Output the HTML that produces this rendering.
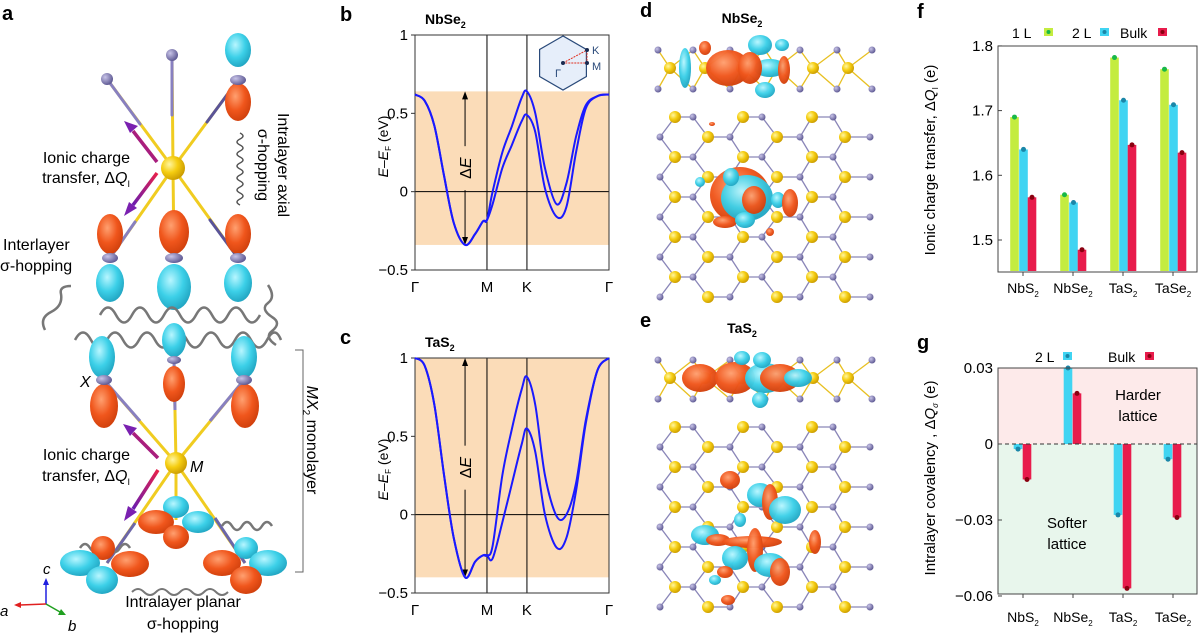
<!DOCTYPE html>
<html><head><meta charset="utf-8">
<style>
html,body{margin:0;padding:0;background:#fff;}
svg{display:block;font-family:"Liberation Sans",Arial,sans-serif;}
</style></head>
<body>
<svg id="fig" width="1200" height="636" viewBox="0 0 1200 636" xmlns="http://www.w3.org/2000/svg">
<defs>
<radialGradient id="gY" cx="0.35" cy="0.35" r="0.7"><stop offset="0" stop-color="#fff6a0"/><stop offset="0.5" stop-color="#f5cd10"/><stop offset="1" stop-color="#c99a00"/></radialGradient>
<radialGradient id="gP" cx="0.35" cy="0.35" r="0.7"><stop offset="0" stop-color="#c8c4e8"/><stop offset="1" stop-color="#5a5590"/></radialGradient>
<radialGradient id="gC" cx="0.4" cy="0.35" r="0.75"><stop offset="0" stop-color="#b8f6ff"/><stop offset="0.5" stop-color="#3cd0e8"/><stop offset="1" stop-color="#1a9ab8"/></radialGradient>
<radialGradient id="gO" cx="0.4" cy="0.35" r="0.75"><stop offset="0" stop-color="#ffa070"/><stop offset="0.5" stop-color="#f0561c"/><stop offset="1" stop-color="#c83a08"/></radialGradient>
<linearGradient id="gArr" x1="0" y1="1" x2="1" y2="0"><stop offset="0" stop-color="#6a1cb0"/><stop offset="1" stop-color="#e8204a"/></linearGradient>
<marker id="ah" markerWidth="8" markerHeight="8" refX="4" refY="4" orient="auto"><path d="M0,1 L8,4 L0,7 z" fill="#000"/></marker>
</defs>

<!-- ================= PANEL A ================= -->
<g id="panelA">
<text x="2" y="20" font-size="20" font-weight="bold">a</text>
<g stroke-width="3" stroke-linecap="round">
<line x1="173" y1="168" x2="107" y2="79" stroke="#f0cc20"/><line x1="140" y1="124" x2="107" y2="79" stroke="#8880c0"/>
<line x1="173" y1="168" x2="172" y2="55" stroke="#f0cc20"/><line x1="172" y1="115" x2="172" y2="55" stroke="#8880c0"/>
<line x1="173" y1="168" x2="238" y2="80" stroke="#f0cc20"/><line x1="207" y1="122" x2="238" y2="80" stroke="#5a5498"/>
<line x1="173" y1="168" x2="110" y2="258" stroke="#f0cc20"/><line x1="135" y1="222" x2="110" y2="258" stroke="#8880c0"/>
<line x1="173" y1="168" x2="174" y2="258" stroke="#f0cc20"/>
<line x1="173" y1="168" x2="238" y2="258" stroke="#f0cc20"/><line x1="210" y1="220" x2="238" y2="258" stroke="#5a5498"/>
</g>
<circle cx="107" cy="79" r="6" fill="url(#gP)"/><circle cx="172" cy="55" r="6" fill="url(#gP)"/>
<ellipse cx="238" cy="50" rx="13" ry="17" fill="url(#gC)"/><ellipse cx="238" cy="102" rx="13" ry="19" fill="url(#gO)"/><ellipse cx="238" cy="80" rx="8" ry="5" fill="url(#gP)"/>
<circle cx="173" cy="168" r="12" fill="url(#gY)"/>
<path d="M240,133 q6,3 0,6 q-6,3 0,6 q6,3 0,6 q-6,3 0,6 q6,3 0,6 q-6,3 0,6 q6,3 0,6 q-6,3 0,6 q6,3 0,6 q-6,3 0,6 q6,3 0,6 q-6,3 0,6" fill="none" stroke="#555" stroke-width="1.5"/>
<!-- arrows -->
<line x1="157" y1="162" x2="133" y2="131" stroke="url(#gArr)" stroke-width="3.5"/><path d="M124,121 l14,5 l-8,7z" fill="#7a20b0"/>
<line x1="157" y1="173" x2="133" y2="205" stroke="url(#gArr)" stroke-width="3.5"/><path d="M124,216 l5,-14 l8,6z" fill="#7a20b0"/>
<line x1="158" y1="458" x2="133" y2="433" stroke="url(#gArr)" stroke-width="3.5"/><path d="M123,424 l14,4 l-7,8z" fill="#7a20b0"/>
<line x1="158" y1="470" x2="133" y2="509" stroke="url(#gArr)" stroke-width="3.5"/><path d="M124,521 l4,-15 l9,6z" fill="#7a20b0"/>
<!-- orbitals row 1 -->
<g>
<ellipse cx="110" cy="234" rx="13" ry="20" fill="url(#gO)"/><ellipse cx="110" cy="283" rx="14" ry="19" fill="url(#gC)"/><ellipse cx="110" cy="258" rx="8" ry="5" fill="url(#gP)"/>
<ellipse cx="174" cy="232" rx="15" ry="22" fill="url(#gO)"/><ellipse cx="174" cy="287" rx="17" ry="23" fill="url(#gC)"/><ellipse cx="174" cy="258" rx="9" ry="5" fill="url(#gP)"/>
<ellipse cx="238" cy="234" rx="13" ry="20" fill="url(#gO)"/><ellipse cx="238" cy="283" rx="14" ry="19" fill="url(#gC)"/><ellipse cx="238" cy="258" rx="8" ry="5" fill="url(#gP)"/>
</g>
<!-- interlayer squiggles -->
<g fill="none" stroke="#777" stroke-width="2.5">
<path d="M45,330 q-6,-12 6,-18 q12,-6 10,-18 q-2,-8 10,-8 M75,340 q8,-15 16,0 q8,15 16,0 q8,-15 16,0 q8,15 16,0 q8,-15 16,0 q8,15 16,0 q8,-15 16,0 q8,15 16,0 q8,-15 16,0 q8,15 16,0 q8,-15 16,0 q8,15 16,0 q8,-15 14,0"/>
<path d="M100,315 q8,-15 16,0 q8,15 16,0 q8,-15 16,0 q8,15 16,0 q8,-15 16,0 q8,15 16,0 q8,-15 16,0 q8,15 16,0 q8,-15 16,0 q8,15 16,0"/>
<path d="M268,285 q8,12 0,18 q-8,6 4,14 q10,6 0,14 q-8,6 4,14"/>
</g>
<!-- orbitals row 2 -->
<g>
<line x1="176" y1="463" x2="104" y2="380" stroke="#f0cc20" stroke-width="3"/><line x1="140" y1="421" x2="104" y2="380" stroke="#8880c0" stroke-width="3"/>
<line x1="176" y1="463" x2="174" y2="360" stroke="#f0cc20" stroke-width="3"/><line x1="175" y1="410" x2="174" y2="360" stroke="#8880c0" stroke-width="3"/>
<line x1="176" y1="463" x2="244" y2="380" stroke="#f0cc20" stroke-width="3"/><line x1="210" y1="421" x2="244" y2="380" stroke="#8880c0" stroke-width="3"/>
<ellipse cx="102" cy="357" rx="13" ry="21" fill="url(#gC)"/><ellipse cx="104" cy="406" rx="14" ry="22" fill="url(#gO)"/><ellipse cx="104" cy="380" rx="8" ry="5" fill="url(#gP)"/>
<ellipse cx="174" cy="340" rx="12" ry="17" fill="url(#gC)"/><ellipse cx="174" cy="384" rx="11" ry="18" fill="url(#gO)"/><ellipse cx="174" cy="360" rx="7" ry="4" fill="url(#gP)"/>
<ellipse cx="244" cy="357" rx="13" ry="21" fill="url(#gC)"/><ellipse cx="245" cy="406" rx="14" ry="22" fill="url(#gO)"/><ellipse cx="244" cy="380" rx="8" ry="5" fill="url(#gP)"/>
</g>
<text x="80" y="387" font-size="16" font-style="italic">X</text>
<!-- lower -->
<g stroke-width="3">
<line x1="176" y1="463" x2="107" y2="563" stroke="#f0cc20"/><line x1="135" y1="523" x2="107" y2="563" stroke="#6c66a8"/>
<line x1="176" y1="463" x2="245" y2="563" stroke="#f0cc20"/><line x1="215" y1="518" x2="245" y2="563" stroke="#6c66a8"/>
<line x1="176" y1="463" x2="176" y2="520" stroke="#f0cc20"/>
</g>
<path d="M80,548 q5,-8 10,0 q5,8 10,0 q5,-8 10,0 q5,8 10,0 q5,-8 10,0" fill="none" stroke="#777" stroke-width="2.5"/>
<path d="M222,526 q5,-8 10,0 q5,8 10,0 q5,-8 10,0 q5,8 10,0 q5,-8 10,0" fill="none" stroke="#777" stroke-width="2.5"/>
<g>
<ellipse cx="176" cy="507" rx="13" ry="11" fill="url(#gC)"/><ellipse cx="198" cy="522" rx="16" ry="11" fill="url(#gC)"/>
<ellipse cx="156" cy="522" rx="18" ry="12" fill="url(#gO)"/><ellipse cx="176" cy="537" rx="13" ry="12" fill="url(#gO)"/>
<ellipse cx="103" cy="548" rx="12" ry="12" fill="url(#gO)"/><ellipse cx="130" cy="564" rx="19" ry="13" fill="url(#gO)"/>
<ellipse cx="80" cy="563" rx="20" ry="13" fill="url(#gC)"/><ellipse cx="102" cy="580" rx="16" ry="14" fill="url(#gC)"/>
<ellipse cx="246" cy="548" rx="12" ry="11" fill="url(#gC)"/><ellipse cx="268" cy="563" rx="19" ry="13" fill="url(#gC)"/>
<ellipse cx="222" cy="563" rx="19" ry="13" fill="url(#gO)"/><ellipse cx="246" cy="580" rx="16" ry="14" fill="url(#gO)"/>
</g>
<path d="M132,592 q6,-6 12,0 q6,6 12,0 q6,-6 12,0 q6,6 12,0 q6,-6 12,0 q6,6 12,0 q6,-6 12,0 q6,6 12,0" fill="none" stroke="#777" stroke-width="2"/>
<circle cx="176" cy="463" r="11" fill="url(#gY)"/>
<text x="190" y="472" font-size="16" font-style="italic">M</text>
<path d="M295,350 H303 V572 H295" fill="none" stroke="#666" stroke-width="1"/>
<text transform="translate(307,440) rotate(90)" font-size="16" text-anchor="middle"><tspan font-style="italic">MX</tspan><tspan font-size="10" dy="4">2</tspan><tspan dy="-4"> monolayer</tspan></text>
<text transform="translate(278,165) rotate(90)" font-size="16" text-anchor="middle"><tspan x="0" y="0">Intralayer axial</tspan><tspan x="0" y="20">σ-hopping</tspan></text>
<g font-size="16" text-anchor="end">
<text x="130" y="163">Ionic charge</text><text x="130" y="183">transfer, Δ<tspan font-style="italic">Q</tspan><tspan font-size="9" dy="4">I</tspan></text>
<text x="130" y="460">Ionic charge</text><text x="130" y="481">transfer, Δ<tspan font-style="italic">Q</tspan><tspan font-size="9" dy="4">I</tspan></text>
</g>
<text x="3" y="250" font-size="16">Interlayer</text>
<text x="0" y="271" font-size="16">σ-hopping</text>
<text x="183" y="607" font-size="16" text-anchor="middle">Intralayer planar</text>
<text x="183" y="629" font-size="16" text-anchor="middle">σ-hopping</text>
<g>
<line x1="46" y1="604" x2="46" y2="584" stroke="#2020e0" stroke-width="1.5"/><path d="M46,578 l-3,7 h6z" fill="#2020e0"/>
<line x1="46" y1="604" x2="20" y2="605" stroke="#e02020" stroke-width="1.5"/><path d="M14,605 l7,-3 v6z" fill="#e02020"/>
<line x1="46" y1="604" x2="60" y2="612" stroke="#20a020" stroke-width="1.5"/><path d="M66,615 l-8,0 l3,-6z" fill="#20a020"/>
<text x="43" y="574" font-size="15" font-style="italic">c</text>
<text x="0" y="616" font-size="15" font-style="italic">a</text>
<text x="68" y="631" font-size="15" font-style="italic">b</text>
</g>
</g>

<g id="bandB"></g>
<g id="bandC"></g>
<g id="structD"></g>
<g id="structE"></g>
<g id="barF"></g>
<g id="barG"></g>
</svg>

<script>
const kPath = [0, 0.05, 0.1, 0.15, 0.2, 0.258, 0.31, 0.35, 0.371, 0.4, 0.45, 0.5, 0.55, 0.577, 0.62, 0.67, 0.73, 0.78, 0.83, 0.88, 0.94, 1];
const nbBand1 = [0.62, 0.58, 0.42, 0.1, -0.2, -0.34, -0.27, -0.19, -0.18, 0.0, 0.25, 0.42, 0.6, 0.64, 0.5, 0.15, -0.08, 0.05, 0.35, 0.55, 0.61, 0.62];
const nbBand2 = [0.62, 0.58, 0.42, 0.1, -0.2, -0.34, -0.27, -0.19, -0.18, -0.08, 0.15, 0.3, 0.45, 0.49, 0.38, 0.02, -0.16, -0.1, 0.25, 0.53, 0.61, 0.62];
const taBand1 = [1.0, 0.95, 0.7, 0.25, -0.15, -0.4, -0.3, -0.26, -0.26, -0.2, 0.25, 0.55, 0.8, 0.88, 0.7, 0.25, -0.01, 0.0, 0.2, 0.6, 0.92, 1.0];
const taBand2 = [1.0, 0.95, 0.7, 0.25, -0.15, -0.4, -0.3, -0.26, -0.26, -0.28, -0.05, 0.2, 0.45, 0.55, 0.4, 0.0, -0.21, -0.15, 0.15, 0.58, 0.92, 1.0];
const bandTicks = ["1", "0.5", "0", "−0.5"];
const bandTickVals = [1, 0.5, 0, -0.5];
const kLabels = ["Γ", "M", "K", "Γ"];
const kLabelPos = [0, 0.371, 0.577, 1];
const nbWindow = [-0.34, 0.64];
const taWindow = [-0.4, 1.0];

const categories = ["NbS", "NbSe", "TaS", "TaSe"];
const ionic1L = [1.69, 1.57, 1.782, 1.764];
const ionic2L = [1.64, 1.558, 1.716, 1.709];
const ionicBulk = [1.566, 1.485, 1.647, 1.635];
const ionicTicks = [1.8, 1.7, 1.6, 1.5];
const cov2L = [-0.002, 0.03, -0.028, -0.006];
const covBulk = [-0.014, 0.02, -0.057, -0.029];
const covTicks = [0.03, 0, -0.03, -0.06];
const covTickLabels = ["0.03", "0", "−0.03", "−0.06"];

const NS = "http://www.w3.org/2000/svg";
function mk(parent, tag, attrs, text) {
  const e = document.createElementNS(NS, tag);
  for (const k in attrs) e.setAttribute(k, attrs[k]);
  if (text !== undefined) e.textContent = text;
  parent.appendChild(e);
  return e;
}
function spline(pts) {
  let d = "M" + pts[0][0].toFixed(1) + "," + pts[0][1].toFixed(1);
  for (let i = 0; i < pts.length - 1; i++) {
    const p0 = pts[Math.max(0, i - 1)], p1 = pts[i], p2 = pts[i + 1], p3 = pts[Math.min(pts.length - 1, i + 2)];
    const c1x = p1[0] + (p2[0] - p0[0]) / 6, c1y = p1[1] + (p2[1] - p0[1]) / 6;
    const c2x = p2[0] - (p3[0] - p1[0]) / 6, c2y = p2[1] - (p3[1] - p1[1]) / 6;
    d += " C" + c1x.toFixed(1) + "," + c1y.toFixed(1) + " " + c2x.toFixed(1) + "," + c2y.toFixed(1) + " " + p2[0].toFixed(1) + "," + p2[1].toFixed(1);
  }
  return d;
}

function bandPanel(g, letter, title, top, bands, win, inset) {
  const L = 415, R = 609, T = top, B = top + 235;
  const x = f => L + f * (R - L);
  const y = v => T + (1 - v) / 1.5 * (B - T);
  const lab = mk(g, "text", {x: 340, y: T - 14, "font-size": 20, "font-weight": "bold"}, letter);
  
  
  const tt = mk(g, "text", {x: 425, y: T - 11, "font-size": 14, "font-weight": "bold"});
  
  
  mk(tt, "tspan", {}, title);
  mk(tt, "tspan", {"font-size": 9, dy: 4}, "2");
  const sh = mk(g, "rect", {x: L, y: y(win[1]), width: R - L, height: y(win[0]) - y(win[1]), fill: "#fbdcb8"});
  
  
  kLabelPos.forEach((p, i) => {
    if (i > 0 && i < 3) mk(g, "line", {x1: x(p), x2: x(p), y1: T, y2: B, stroke: "#000", "stroke-width": 1});
    const t = mk(g, "text", {x: x(p), y: B + 22, "font-size": 15, "text-anchor": "middle"}, kLabels[i]);
    
    
  });
  mk(g, "line", {x1: L, x2: R, y1: y(0), y2: y(0), stroke: "#000", "stroke-width": 1});
  mk(g, "rect", {x: L, y: T, width: R - L, height: B - T, fill: "none", stroke: "#333", "stroke-width": 1});
  bandTickVals.forEach((v, i) => {
    mk(g, "line", {x1: L - 4, x2: L, y1: y(v), y2: y(v), stroke: "#333"});
    const t = mk(g, "text", {x: L - 7, y: y(v) + 5, "font-size": 15, "text-anchor": "end"}, bandTicks[i]);
    
    
  });
  const yl = mk(g, "text", {transform: `translate(388,${(T + B) / 2 - 6}) rotate(-90)`, "font-size": 14, "text-anchor": "middle"});
  
  
  mk(yl, "tspan", {"font-style": "italic"}, "E");
  mk(yl, "tspan", {}, "–");
  mk(yl, "tspan", {"font-style": "italic"}, "E");
  mk(yl, "tspan", {"font-size": 8, dy: 3}, "F");
  mk(yl, "tspan", {dy: -3}, " (eV)");
  const ax = x(0.258);
  const ym = (y(win[0]) + y(win[1])) / 2;
  mk(g, "line", {x1: ax, x2: ax, y1: ym - 22, y2: y(win[1]) + 4, stroke: "#000", "stroke-width": 1, "marker-end": "url(#ah)"});
  mk(g, "line", {x1: ax, x2: ax, y1: ym + 22, y2: y(win[0]) - 4, stroke: "#000", "stroke-width": 1, "marker-end": "url(#ah)"});
  const de = mk(g, "text", {transform: `translate(${ax + 6},${ym}) rotate(-90)`, "font-size": 16, "text-anchor": "middle"});
  
  
  mk(de, "tspan", {}, "Δ");
  mk(de, "tspan", {"font-style": "italic"}, "E");
  bands.forEach(b => {
    const pts = kPath.map((k, i) => [x(k), y(b[i])]);
    const p = mk(g, "path", {d: spline(pts), fill: "none", stroke: "#1a1aff", "stroke-width": 2});
    
    
  });
  if (inset) {
    const cx = 563, cy = 63, r = 27;
    let pp = [];
    for (let i = 0; i < 6; i++) { const a = Math.PI / 2 + i * Math.PI / 3; pp.push((cx + r * Math.cos(a)).toFixed(1) + "," + (cy - r * Math.sin(a)).toFixed(1)); }
    const hx = mk(g, "polygon", {points: pp.join(" "), fill: "#e6eefa", stroke: "#2a4a7a", "stroke-width": 1.2});
    
    
    mk(g, "path", {d: "M563,63 L587,50 L587,63 Z", fill: "none", stroke: "#e03020", "stroke-width": 1, "stroke-dasharray": "2,1"});
    [[563, 63], [587, 50], [587, 63]].forEach(q => mk(g, "circle", {cx: q[0], cy: q[1], r: 2, fill: "#1a2a50"}));
    mk(g, "text", {x: 592, y: 54, "font-size": 11, fill: "#2a4a7a"}, "K");
    mk(g, "text", {x: 592, y: 70, "font-size": 11, fill: "#2a4a7a"}, "M");
    mk(g, "text", {x: 555, y: 77, "font-size": 11, fill: "#2a4a7a"}, "Γ");
  }
}
bandPanel(document.getElementById("bandB"), "b", "NbSe", 35, [nbBand1, nbBand2], nbWindow, true);
bandPanel(document.getElementById("bandC"), "c", "TaS", 358, [taBand1, taBand2], taWindow, false);

function structPanel(g, letter, title, top, blobs) {
  const lab = mk(g, "text", {x: 640, y: top + 17, "font-size": 20, "font-weight": "bold"}, letter);
  
  
  const tt = mk(g, "text", {x: 742, y: top + 23, "font-size": 14, "font-weight": "bold", "text-anchor": "middle"});
  
  
  mk(tt, "tspan", {}, title);
  mk(tt, "tspan", {"font-size": 9, dy: 4}, "2");
  const sy = top + 68;
  const ys = [670, 705, 742, 777, 813, 848], ps = [658, 693, 730, 765, 800, 837, 872];
  ys.forEach((xx, i) => {
    [ps[i], ps[i + 1]].forEach(px => {
      mk(g, "line", {x1: xx, y1: sy, x2: px, y2: sy - 18, stroke: "#e8c020", "stroke-width": 1.3});
      mk(g, "line", {x1: xx, y1: sy, x2: px, y2: sy + 21, stroke: "#e8c020", "stroke-width": 1.3});
    });
  });
  ps.forEach(px => { mk(g, "circle", {cx: px, cy: sy - 18, r: 3.5, fill: "url(#gP)"}); mk(g, "circle", {cx: px, cy: sy + 21, r: 3.5, fill: "url(#gP)"}); });
  const Y = [], P = [];
  for (let r = 0; r < 10; r++) {
    const yy = top + 117 + r * 20;
    if (r % 2 === 0) { [675, 743, 812, 880].forEach(v => Y.push([v, yy])); [693, 762, 833].forEach(v => P.push([v, yy])); }
    else { [708, 777, 845].forEach(v => Y.push([v, yy])); [660, 730, 800, 870].forEach(v => P.push([v, yy])); }
  }
  const Yf = Y.filter(q => q[0] < 870);
  Yf.forEach(a => P.forEach(b => {
    const d = Math.hypot(a[0] - b[0], a[1] - b[1]);
    if (d < 30) mk(g, "line", {x1: a[0], y1: a[1], x2: b[0], y2: b[1], stroke: "#8a86b8", "stroke-width": 1.3});
  }));
  P.forEach(q => mk(g, "circle", {cx: q[0], cy: q[1], r: 3.5, fill: "url(#gP)"}));
  Yf.forEach(q => mk(g, "circle", {cx: q[0], cy: q[1], r: 6, fill: "url(#gY)"}));
  ys.forEach(xx => mk(g, "circle", {cx: xx, cy: sy, r: 6, fill: "url(#gY)"}));
  blobs.forEach(b => {
    const e = mk(g, "ellipse", {cx: b[0], cy: top + b[1], rx: b[2], ry: b[3], fill: b[4] ? "url(#gO)" : "url(#gC)", opacity: 0.97});
    
    
  });
}
structPanel(document.getElementById("structD"), "d", "NbSe", 0, [
  [685, 68, 6, 20, 0], [728, 68, 22, 18, 1], [760, 45, 12, 10, 0], [765, 90, 10, 8, 0], [770, 68, 16, 9, 0], [750, 68, 12, 16, 1], [782, 45, 7, 6, 0], [705, 48, 6, 7, 1], [784, 70, 6, 14, 1],
  [740, 195, 30, 28, 1], [747, 198, 26, 23, 0], [754, 200, 12, 14, 1], [731, 177, 8, 9, 0], [778, 200, 7, 8, 0], [790, 203, 8, 14, 1], [725, 222, 12, 6, 1], [745, 220, 10, 8, 0], [700, 182, 5, 5, 0], [712, 124, 3, 2, 1], [770, 232, 4, 4, 1]
]);
structPanel(document.getElementById("structE"), "e", "TaS", 310, [
  [700, 68, 18, 14, 1], [735, 68, 20, 16, 1], [765, 68, 20, 15, 0], [780, 68, 20, 14, 1], [798, 68, 14, 9, 0], [742, 48, 8, 7, 0], [762, 50, 9, 8, 0], [760, 90, 8, 8, 0],
  [730, 170, 10, 9, 1], [760, 185, 13, 12, 0], [770, 192, 8, 18, 1], [785, 200, 16, 14, 0], [705, 225, 14, 10, 0], [718, 230, 12, 6, 1], [752, 232, 30, 6, 1], [755, 240, 8, 22, 1],
  [770, 255, 16, 12, 0], [735, 248, 13, 12, 0], [780, 262, 10, 14, 1], [725, 262, 8, 6, 1], [715, 270, 6, 5, 0], [815, 232, 6, 12, 1], [728, 290, 7, 5, 1], [740, 210, 6, 7, 0]
]);

(function () {
  const g = document.getElementById("barF");
  const L = 998, R = 1197, T = 46, B = 272;
  const y = v => 240 - (v - 1.5) * 647;
  const xc = i => 1023 + i * 50;
  const lab = mk(g, "text", {x: 917, y: 18, "font-size": 20, "font-weight": "bold"}, "f");
  
  
  mk(g, "rect", {x: L, y: T, width: R - L, height: B - T, fill: "none", stroke: "#444"});
  ionicTicks.forEach(v => {
    mk(g, "line", {x1: L, x2: L + 4, y1: y(v), y2: y(v), stroke: "#444"});
    const t = mk(g, "text", {x: L - 5, y: y(v) + 5, "font-size": 15, "text-anchor": "end"}, v.toFixed(1));
    
    
  });
  const series = [[ionic1L, -8.5, "#c4ec40", "#18b848"], [ionic2L, 0.5, "#40d4f2", "#1a86a8"], [ionicBulk, 9, "#e81c4c", "#8a0010"]];
  categories.forEach((c, i) => {
    mk(g, "line", {x1: xc(i), x2: xc(i), y1: B, y2: B + 4, stroke: "#444"});
    const t = mk(g, "text", {x: xc(i), y: 293, "font-size": 14, "text-anchor": "middle"});
    
    
    mk(t, "tspan", {}, c);
    mk(t, "tspan", {"font-size": 8, dy: 4}, "2");
    series.forEach(s => {
      const v = s[0][i];
      const r = mk(g, "rect", {x: xc(i) + s[1] - 4.3, y: y(v), width: 8.6, height: B - 1 - y(v), fill: s[2]});
      
      
      mk(g, "circle", {cx: xc(i) + s[1], cy: y(v), r: 2.5, fill: s[3]});
    });
  });
  const yt = mk(g, "text", {transform: "translate(935,160) rotate(-90)", "font-size": 15, "text-anchor": "middle"});
  
  
  mk(yt, "tspan", {}, "Ionic charge transfer, Δ");
  mk(yt, "tspan", {"font-style": "italic"}, "Q");
  mk(yt, "tspan", {"font-size": 8, dy: 3}, "I");
  mk(yt, "tspan", {dy: -3}, " (e)");
  const leg = [["1 L", 1012, 1044, "#c4ec40", "#18b848"], ["2 L", 1072, 1100, "#40d4f2", "#1a86a8"], ["Bulk", 1120, 1158, "#e81c4c", "#8a0010"]];
  leg.forEach(l => {
    const t = mk(g, "text", {x: l[1], y: 38, "font-size": 14}, l[0]);
    
    
    mk(g, "rect", {x: l[2], y: 28, width: 9, height: 8, fill: l[3]});
    mk(g, "circle", {cx: l[2] + 4.5, cy: 32, r: 2, fill: l[4]});
  });
})();

(function () {
  const g = document.getElementById("barG");
  const L = 998, R = 1197, T = 368, B = 594;
  const y = v => 444 - v * 2533;
  const xc = i => 1023 + i * 50;
  const lab = mk(g, "text", {x: 917, y: 349, "font-size": 20, "font-weight": "bold"}, "g");
  
  
  const up = mk(g, "rect", {x: L, y: T, width: R - L, height: y(0) - T, fill: "#fdeaea"});
  
  
  const dn = mk(g, "rect", {x: L, y: y(0), width: R - L, height: B - y(0), fill: "#e8f6ec"});
  
  
  mk(g, "text", {x: 1138, y: 400, "font-size": 15, "text-anchor": "middle"}, "Harder");
  mk(g, "text", {x: 1138, y: 421, "font-size": 15, "text-anchor": "middle"}, "lattice");
  mk(g, "text", {x: 1067, y: 528, "font-size": 15, "text-anchor": "middle"}, "Softer");
  mk(g, "text", {x: 1067, y: 549, "font-size": 15, "text-anchor": "middle"}, "lattice");
  const series = [[cov2L, -5, "#40d4f2", "#1a86a8"], [covBulk, 4, "#e81c4c", "#8a0010"]];
  categories.forEach((c, i) => {
    series.forEach(s => {
      const v = s[0][i];
      const r = mk(g, "rect", {x: xc(i) + s[1] - 4.3, y: Math.min(y(v), y(0)), width: 8.6, height: Math.abs(y(v) - y(0)), fill: s[2]});
      
      
      mk(g, "circle", {cx: xc(i) + s[1], cy: y(v), r: 2.5, fill: s[3]});
    });
    mk(g, "line", {x1: xc(i), x2: xc(i), y1: B, y2: B + 4, stroke: "#444"});
    const t = mk(g, "text", {x: xc(i), y: 622, "font-size": 14, "text-anchor": "middle"});
    
    
    mk(t, "tspan", {}, c);
    mk(t, "tspan", {"font-size": 8, dy: 4}, "2");
  });
  mk(g, "line", {x1: L, x2: R, y1: y(0), y2: y(0), stroke: "#333", "stroke-dasharray": "4,3"});
  mk(g, "rect", {x: L, y: T, width: R - L, height: B - T, fill: "none", stroke: "#444"});
  covTicks.forEach((v, i) => {
    mk(g, "line", {x1: L, x2: L + 4, y1: y(v), y2: y(v), stroke: "#444"});
    const t = mk(g, "text", {x: L - 5, y: y(v) + 5, "font-size": 15, "text-anchor": "end"}, covTickLabels[i]);
    
    
  });
  const yt = mk(g, "text", {transform: "translate(935,478) rotate(-90)", "font-size": 15, "text-anchor": "middle"});
  
  
  mk(yt, "tspan", {}, "Intralayer covalency , Δ");
  mk(yt, "tspan", {"font-style": "italic"}, "Q");
  mk(yt, "tspan", {"font-size": 8, dy: 3, "font-style": "italic"}, "σ");
  mk(yt, "tspan", {dy: -3}, " (e)");
  const leg = [["2 L", 1035, 1063, "#40d4f2", "#1a86a8"], ["Bulk", 1108, 1145, "#e81c4c", "#8a0010"]];
  leg.forEach(l => {
    const t = mk(g, "text", {x: l[1], y: 362, "font-size": 14}, l[0]);
    
    
    mk(g, "rect", {x: l[2], y: 352, width: 9, height: 8, fill: l[3]});
    mk(g, "circle", {cx: l[2] + 4.5, cy: 356, r: 2, fill: l[4]});
  });
})();
</script>
</body></html>
